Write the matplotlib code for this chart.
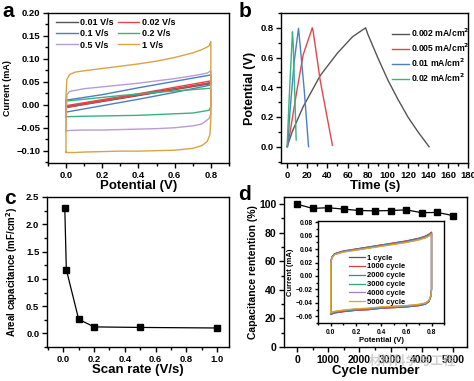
import matplotlib
matplotlib.use("Agg")
import matplotlib.pyplot as plt
from matplotlib.ticker import AutoMinorLocator

plt.rcParams["font.family"] = ["Liberation Sans", "DejaVu Sans"]
plt.rcParams["font.weight"] = "bold"
plt.rcParams["axes.labelweight"] = "bold"
plt.rcParams["axes.linewidth"] = 1.0

# ------------------------------------------------------------
# (a) CV curves at different scan rates
# ------------------------------------------------------------
cv_labels = ["0.01 V/s", "0.02 V/s", "0.1 V/s", "0.2 V/s", "0.5 V/s", "1 V/s"]
cv_colors = ["#555555", "#e0474c", "#4a7fc1", "#36b37e", "#b99bd8", "#d9a441"]

cv_e = {
    "0.01 V/s": [0.0, 0.2, 0.4, 0.6, 0.8, 0.8, 0.6, 0.4, 0.2, 0.0, 0.0],
    "0.02 V/s": [0.0, 0.2, 0.4, 0.6, 0.8, 0.8, 0.6, 0.4, 0.2, 0.0, 0.0],
    "0.1 V/s": [0.0, 0.2, 0.4, 0.6, 0.8, 0.8, 0.6, 0.4, 0.2, 0.0, 0.0],
    "0.2 V/s": [0.0, 0.1, 0.3, 0.5, 0.7, 0.8, 0.8, 0.79, 0.7, 0.4, 0.1, 0.0, 0.0],
    "0.5 V/s": [0.0, 0.005, 0.02, 0.1, 0.2, 0.3, 0.4, 0.5, 0.6, 0.7, 0.78, 0.8,
                0.8, 0.79, 0.75, 0.7, 0.6, 0.5, 0.4, 0.3, 0.2, 0.1, 0.02, 0.0],
    "1 V/s": [0.0, 0.0, 0.005, 0.02, 0.05, 0.1, 0.2, 0.3, 0.4, 0.5, 0.6, 0.7, 0.75, 0.79, 0.8,
              0.8, 0.795, 0.78, 0.75, 0.7, 0.6, 0.5, 0.4, 0.3, 0.2, 0.1, 0.05, 0.0, 0.0],
}
cv_i = {
    "0.01 V/s": [-0.004, 0.009, 0.022, 0.035, 0.048, 0.046, 0.033, 0.020, 0.007, -0.006, -0.004],
    "0.02 V/s": [-0.002, 0.011, 0.024, 0.038, 0.052, 0.048, 0.034, 0.021, 0.008, -0.006, -0.002],
    "0.1 V/s": [0.010, 0.022, 0.037, 0.051, 0.065, 0.043, 0.027, 0.012, -0.002, -0.016, 0.010],
    "0.2 V/s": [0.008, 0.012, 0.020, 0.027, 0.033, 0.036, -0.004, -0.012, -0.018, -0.023, -0.025, -0.026, 0.008],
    "0.5 V/s": [-0.057, 0.022, 0.029, 0.035, 0.039, 0.043, 0.047, 0.052, 0.057, 0.063, 0.069, 0.074,
                -0.020, -0.030, -0.042, -0.046, -0.050, -0.052, -0.053, -0.054, -0.055, -0.055, -0.056, -0.057],
    "1 V/s": [-0.103, 0.02, 0.055, 0.066, 0.071, 0.074, 0.079, 0.084, 0.089, 0.095, 0.103, 0.113, 0.120, 0.128, 0.138,
              -0.03, -0.065, -0.080, -0.089, -0.095, -0.099, -0.100, -0.101, -0.101, -0.102, -0.103, -0.104, -0.104, -0.103],
}

# ------------------------------------------------------------
# (b) GCD curves
# ------------------------------------------------------------
gcd_labels = ["0.002 mA/cm$^{\\mathbf{2}}$", "0.005 mA/cm$^{\\mathbf{2}}$",
              "0.01 mA/cm$^{\\mathbf{2}}$", "0.02 mA/cm$^{\\mathbf{2}}$"]
gcd_colors = ["#555555", "#e0474c", "#4a7fc1", "#36b37e"]
gcd_t = [
    [0, 2, 5, 16, 33, 50, 65, 78, 80, 90, 100, 110, 120, 130, 141],
    [0, 3, 10, 16, 25, 26, 33, 45],
    [0.5, 3, 7, 11.3, 12, 17, 21.3],
    [0, 2, 5.3, 6, 9],
]
gcd_v = [
    [0.0, 0.04, 0.10, 0.27, 0.48, 0.63, 0.74, 0.80, 0.76, 0.60, 0.45, 0.32, 0.20, 0.10, 0.0],
    [0.0, 0.10, 0.39, 0.62, 0.80, 0.77, 0.44, 0.01],
    [0.0, 0.25, 0.57, 0.797, 0.75, 0.38, 0.0],
    [0.0, 0.32, 0.773, 0.70, 0.045],
]

# ------------------------------------------------------------
# (c) areal capacitance vs scan rate
# ------------------------------------------------------------
scan_rate = [0.01, 0.02, 0.1, 0.2, 0.5, 1.0]
areal_cap = [2.30, 1.17, 0.26, 0.12, 0.11, 0.10]

# ------------------------------------------------------------
# (d) cycling stability + inset CV
# ------------------------------------------------------------
cycles = [0, 500, 1000, 1500, 2000, 2500, 3000, 3500, 4000, 4500, 5000]
retention = [100, 97, 97.5, 96.5, 95.5, 95.3, 95.5, 96, 94, 94.2, 92]

inset_labels = ["1 cycle", "1000 cycle", "2000 cycle", "3000 cycle", "4000 cycle", "5000 cycle"]
inset_colors = ["#555555", "#e03a3e", "#3a7dc9", "#2ca86a", "#a57cc8", "#d9a52f"]
inset_scale = [1.0, 1.0, 0.985, 0.975, 0.965, 0.955]
inset_e = [0.0, 0.0, 0.01, 0.03, 0.1, 0.2, 0.3, 0.4, 0.5, 0.6, 0.7, 0.75, 0.78, 0.8,
           0.8, 0.795, 0.78, 0.75, 0.7, 0.6, 0.5, 0.4, 0.3, 0.2, 0.1, 0.03, 0.0]
inset_i = [-0.057, 0.020, 0.028, 0.033, 0.037, 0.040, 0.043, 0.046, 0.049, 0.052, 0.056, 0.059, 0.062, 0.065,
           -0.020, -0.030, -0.038, -0.042, -0.044, -0.046, -0.047, -0.048, -0.050, -0.051, -0.053, -0.055, -0.057]


def style_axes(ax, size=6.8):
    ax.tick_params(which="both", direction="out", top=False, right=False, labelsize=size,
                   width=1.0, pad=2)
    ax.tick_params(which="major", length=3.5)
    ax.tick_params(which="minor", length=2)
    ax.xaxis.set_minor_locator(AutoMinorLocator(2))
    ax.yaxis.set_minor_locator(AutoMinorLocator(2))
    for lab in ax.get_xticklabels() + ax.get_yticklabels():
        lab.set_fontweight("bold")


fig = plt.figure(figsize=(4.74, 3.81), dpi=100)

# ---------------- a ----------------
ax_a = fig.add_axes([0.101, 0.572, 0.382, 0.394])
handles = {}
for lab, col in zip(cv_labels, cv_colors):
    h, = ax_a.plot(cv_e[lab], cv_i[lab], color=col, lw=1.0)
    handles[lab] = h
ax_a.set_xlim(-0.1, 0.9)
ax_a.set_ylim(-0.127, 0.2)
ax_a.set_xticks([0.0, 0.2, 0.4, 0.6, 0.8])
ax_a.set_yticks([-0.10, -0.05, 0.0, 0.05, 0.10, 0.15, 0.20])
ax_a.set_xlabel("Potential (V)", fontsize=9.5, labelpad=0)
ax_a.set_ylabel("Current (mA)", fontsize=6.5, labelpad=3)
style_axes(ax_a)
order = ["0.01 V/s", "0.1 V/s", "0.5 V/s", "0.02 V/s", "0.2 V/s", "1 V/s"]
ax_a.legend([handles[k] for k in order], order, ncol=2, frameon=False,
            loc="upper left", bbox_to_anchor=(0.0, 1.02), handlelength=2.4,
            handletextpad=0.3, columnspacing=0.4, labelspacing=0.25,
            prop={"weight": "bold", "size": 6.5})

# ---------------- b ----------------
ax_b = fig.add_axes([0.593, 0.572, 0.395, 0.394])
for t, v, col, lab in zip(gcd_t, gcd_v, gcd_colors, gcd_labels):
    ax_b.plot(t, v, color=col, lw=1.0, label=lab)
ax_b.set_xlim(-6, 180)
ax_b.set_ylim(-0.11, 0.9)
ax_b.set_xticks(range(0, 181, 20))
ax_b.set_yticks([0.0, 0.2, 0.4, 0.6, 0.8])
ax_b.set_xlabel("Time (s)", fontsize=9.5, labelpad=0)
ax_b.set_ylabel("Potential (V)", fontsize=9, labelpad=3)
style_axes(ax_b)
ax_b.legend(frameon=False, loc="upper right", bbox_to_anchor=(1.05, 0.96),
            handlelength=2.0, handletextpad=0.3, labelspacing=0.3,
            prop={"weight": "bold", "size": 6.2})

# ---------------- c ----------------
ax_c = fig.add_axes([0.099, 0.089, 0.384, 0.394])
ax_c.plot(scan_rate, areal_cap, color="black", lw=0.9, marker="s", markersize=5)
ax_c.set_xlim(-0.106, 1.076)
ax_c.set_ylim(-0.25, 2.5)
ax_c.set_xticks([0.0, 0.2, 0.4, 0.6, 0.8, 1.0])
ax_c.set_yticks([0.0, 0.5, 1.0, 1.5, 2.0, 2.5])
ax_c.set_xlabel("Scan rate (V/s)", fontsize=9.5, labelpad=0)
ax_c.set_ylabel("Areal capacitance (mF/cm$^{\\mathbf{2}}$)", fontsize=7, labelpad=4)
style_axes(ax_c)

# ---------------- d ----------------
ax_d = fig.add_axes([0.599, 0.089, 0.386, 0.394])
ax_d.plot(cycles, retention, color="black", lw=0.9, marker="s", markersize=4.5)
ax_d.set_xlim(-420, 5450)
ax_d.set_ylim(0, 105)
ax_d.set_xticks([0, 1000, 2000, 3000, 4000, 5000])
ax_d.set_yticks([0, 20, 40, 60, 80, 100])
ax_d.set_xlabel("Cycle number", fontsize=9.5, labelpad=0)
ax_d.set_ylabel("Capacitance rentention (%)", fontsize=7.5, labelpad=1)
style_axes(ax_d, size=7.5)

ax_in = fig.add_axes([0.671, 0.152, 0.266, 0.2685])
for lab, col, s in zip(inset_labels, inset_colors, inset_scale):
    ax_in.plot(inset_e, [s * i for i in inset_i], color=col, lw=0.9, label=lab)
ax_in.set_xlim(-0.1, 0.9)
ax_in.set_ylim(-0.07, 0.082)
ax_in.set_xticks([0.0, 0.2, 0.4, 0.6, 0.8])
ax_in.set_yticks([-0.06, -0.04, -0.02, 0.0, 0.02, 0.04, 0.06, 0.08])
ax_in.set_xlabel("Potential (V)", fontsize=5.5, labelpad=1)
ax_in.set_ylabel("Current (mA)", fontsize=5.5, labelpad=1)
style_axes(ax_in, size=4.8)
ax_in.tick_params(which="major", length=2)
ax_in.tick_params(which="minor", length=1.2)
ax_in.legend(frameon=False, loc="center", bbox_to_anchor=(0.47, 0.42),
             handlelength=2.0, handletextpad=0.3, labelspacing=0.2,
             prop={"weight": "bold", "size": 5.5})

# panel letters
fig.text(0.005, 0.995, "a", fontsize=15, fontweight="bold", va="top")
fig.text(0.503, 0.995, "b", fontsize=15, fontweight="bold", va="top")
fig.text(0.008, 0.505, "c", fontsize=15, fontweight="bold", va="top")
fig.text(0.503, 0.515, "d", fontsize=15, fontweight="bold", va="top")

# watermark
fig.text(0.87, 0.05, "材料科学与工程", fontsize=9, color="#bbbbbb", alpha=0.7,
         ha="center", va="center", family=["Noto Sans CJK SC", "DejaVu Sans"])

fig.savefig("out.png", dpi=100)
